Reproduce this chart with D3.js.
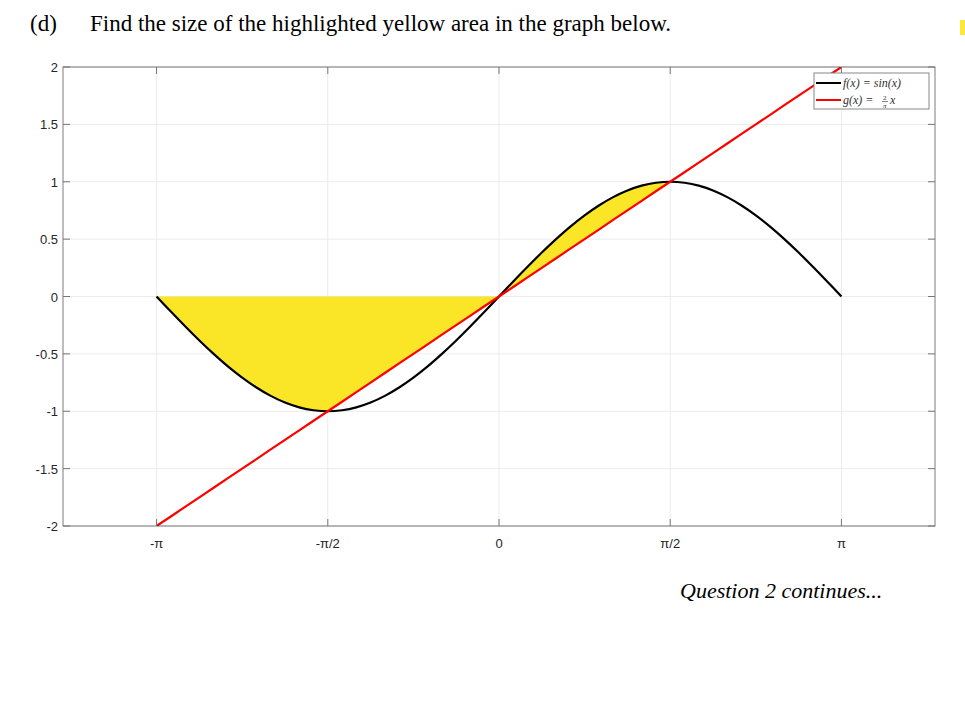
<!DOCTYPE html>
<html><head><meta charset="utf-8">
<script src="https://cdn.jsdelivr.net/npm/d3@7"></script>
<style>body{margin:0;background:#fff}</style>
</head><body>
<svg id="chart" width="965" height="712"></svg>
<script>
var PI = Math.PI;
// x samples: k*pi/24, k = -24..24
var xSteps = [-24,-23,-22,-21,-20,-19,-18,-17,-16,-15,-14,-13,-12,-11,-10,-9,-8,-7,-6,-5,-4,-3,-2,-1,
  0,1,2,3,4,5,6,7,8,9,10,11,12,13,14,15,16,17,18,19,20,21,22,23,24];
var sinVals = [0,-0.131,-0.259,-0.383,-0.5,-0.609,-0.707,-0.793,-0.866,-0.924,-0.966,-0.991,-1,
  -0.991,-0.966,-0.924,-0.866,-0.793,-0.707,-0.609,-0.5,-0.383,-0.259,-0.131,
  0,0.131,0.259,0.383,0.5,0.609,0.707,0.793,0.866,0.924,0.966,0.991,1,
  0.991,0.966,0.924,0.866,0.793,0.707,0.609,0.5,0.383,0.259,0.131,0];
var gVals = [-2,-1.917,-1.833,-1.75,-1.667,-1.583,-1.5,-1.417,-1.333,-1.25,-1.167,-1.083,-1,
  -0.917,-0.833,-0.75,-0.667,-0.583,-0.5,-0.417,-0.333,-0.25,-0.167,-0.083,
  0,0.083,0.167,0.25,0.333,0.417,0.5,0.583,0.667,0.75,0.833,0.917,1,
  1.083,1.167,1.25,1.333,1.417,1.5,1.583,1.667,1.75,1.833,1.917,2];
var xTicks = [-PI, -PI/2, 0, PI/2, PI];
var xTickLabels = ["-\u03c0", "-\u03c0/2", "0", "\u03c0/2", "\u03c0"];
var yTicks = [-2,-1.5,-1,-0.5,0,0.5,1,1.5,2];

var svg = d3.select("#chart");
var L = 63, T = 67, R = 935, B = 526;
var x = d3.scaleLinear().domain([-4, 4]).range([L, R]);
var y = d3.scaleLinear().domain([-2, 2]).range([B, T]);

var pts = xSteps.map(function(k, i) { return {x: k*PI/24, s: sinVals[i], g: gVals[i]}; });

svg.append("text").attr("x", 30).attr("y", 31).attr("font-family", "Liberation Serif")
  .attr("font-size", 23).text("(d)");
svg.append("text").attr("x", 90).attr("y", 31).attr("font-family", "Liberation Serif")
  .attr("font-size", 23).text("Find the size of the highlighted yellow area in the graph below.");
svg.append("rect").attr("x", 960).attr("y", 20).attr("width", 5).attr("height", 15).attr("fill", "#fbe83a");

// grid
var grid = svg.append("g").attr("stroke", "#ebebeb").attr("stroke-width", 1);
xTicks.forEach(function(t) { grid.append("line").attr("x1", x(t)).attr("x2", x(t)).attr("y1", T).attr("y2", B); });
yTicks.forEach(function(t) { grid.append("line").attr("x1", L).attr("x2", R).attr("y1", y(t)).attr("y2", y(t)); });

// yellow area
var area = d3.area()
  .x(function(d) { return x(d.x); })
  .y0(function(d) { return y(d.x <= 0 ? 0 : d.s); })
  .y1(function(d) { return y(d.x <= 0 ? Math.max(d.s, d.g) : d.g); });
svg.append("path").datum(pts.filter(function(d) { return d.x <= PI/2 + 1e-9; }))
  .attr("d", area).attr("fill", "#fae526");

var clip = svg.append("clipPath").attr("id", "clp").append("rect")
  .attr("x", L).attr("y", T).attr("width", R-L).attr("height", B-T);

var line = d3.line().curve(d3.curveCatmullRom);
svg.append("path").attr("clip-path", "url(#clp)")
  .attr("d", line(pts.map(function(d) { return [x(d.x), y(d.s)]; })))
  .attr("fill", "none").attr("stroke", "#000").attr("stroke-width", 2.2);
svg.append("path").attr("clip-path", "url(#clp)")
  .attr("d", d3.line()(pts.map(function(d) { return [x(d.x), y(d.g)]; })))
  .attr("fill", "none").attr("stroke", "#f00").attr("stroke-width", 2.2);

// axes box
svg.append("rect").attr("x", L).attr("y", T).attr("width", R-L).attr("height", B-T)
  .attr("fill", "none").attr("stroke", "#262626").attr("stroke-opacity", 0.6);
var ax = svg.append("g").attr("font-family", "Liberation Sans").attr("font-size", 13).attr("fill", "#262626");
yTicks.forEach(function(t) {
  ax.append("line").attr("x1", L).attr("x2", L+7).attr("y1", y(t)).attr("y2", y(t)).attr("stroke", "#777");
  ax.append("line").attr("x1", R-7).attr("x2", R).attr("y1", y(t)).attr("y2", y(t)).attr("stroke", "#777");
  ax.append("text").attr("x", L-5).attr("y", y(t)+5).attr("text-anchor", "end").text(t);
});
xTicks.forEach(function(t, i) {
  ax.append("line").attr("x1", x(t)).attr("x2", x(t)).attr("y1", B).attr("y2", B-7).attr("stroke", "#777");
  ax.append("line").attr("x1", x(t)).attr("x2", x(t)).attr("y1", T).attr("y2", T+7).attr("stroke", "#777");
  ax.append("text").attr("x", x(t)).attr("y", B+22).attr("text-anchor", "middle").text(xTickLabels[i]);
});

// legend
var lg = svg.append("g").attr("transform", "translate(814,73)");
lg.append("rect").attr("width", 115).attr("height", 36).attr("fill", "#fff").attr("stroke", "#888");
lg.append("line").attr("x1", 2).attr("x2", 27).attr("y1", 10).attr("y2", 10).attr("stroke", "#000").attr("stroke-width", 2);
lg.append("line").attr("x1", 2).attr("x2", 27).attr("y1", 27).attr("y2", 27).attr("stroke", "#f00").attr("stroke-width", 2);
var lt = lg.append("g").attr("font-family", "Liberation Serif").attr("font-style", "italic").attr("font-size", 12).attr("fill", "#333");
lt.append("text").attr("x", 29).attr("y", 14).text("f(x) = sin(x)");
lt.append("text").attr("x", 29).attr("y", 31).text("g(x) = ");
lt.append("text").attr("x", 69).attr("y", 27).attr("font-size", 7).attr("font-style", "normal").text("2");
lt.append("text").attr("x", 69).attr("y", 35).attr("font-size", 7).text("\u03c0");
lt.append("line").attr("x1", 68).attr("x2", 74).attr("y1", 28.5).attr("y2", 28.5).attr("stroke", "#333").attr("stroke-width", 0.6);
lt.append("text").attr("x", 76).attr("y", 31).text("x");

svg.append("text").attr("x", 680).attr("y", 598).attr("font-family", "Liberation Serif")
  .attr("font-style", "italic").attr("font-size", 22).text("Question 2 continues...");
</script>
</body></html>
